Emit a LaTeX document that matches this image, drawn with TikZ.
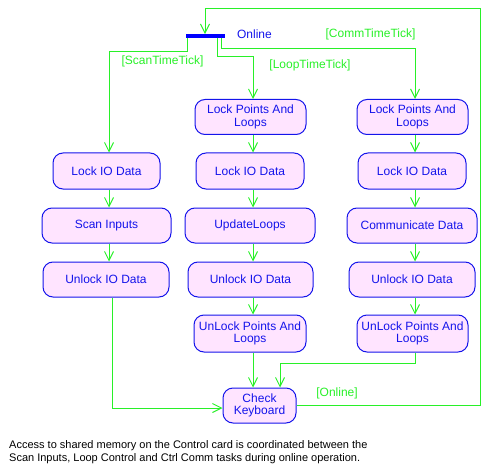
\documentclass[tikz,border=0pt]{standalone}
\usepackage{fontspec}
\setmainfont{Liberation Sans}
\usetikzlibrary{arrows.meta}
\definecolor{actblue}{RGB}{20,20,235}
\definecolor{actfill}{RGB}{255,228,255}
\definecolor{flowgreen}{RGB}{40,240,40}
\tikzset{
  act/.style={draw=actblue, fill=actfill, text=actblue, rounded corners=10pt,
    line width=1pt, align=center, inner sep=0pt, font=\fontsize{12}{12.5}\selectfont},
  flow/.style={draw=flowgreen, line width=1pt,
    -{Straight Barb[length=9pt,width=9pt,line width=1pt]}},
  flowline/.style={draw=flowgreen, line width=1pt},
  guard/.style={text=flowgreen, font=\fontsize{12}{14}\selectfont, inner sep=0pt},
}
\begin{document}
\begin{tikzpicture}[x=1pt,y=-1pt]
\useasboundingbox (0,0) rectangle (489,473);
% bar
\node[fill=blue, minimum width=39pt, minimum height=3.5pt, inner sep=0pt] (bar) at (205.5,36) {};
\node[text=actblue, font=\fontsize{12}{14}\selectfont, inner sep=0pt] (online) at (254.5,34) {Online};
% left column
\node[act, minimum width=107pt, minimum height=36pt] (lio1) at (106.5,171) {Lock IO Data};
\node[act, minimum width=129pt, minimum height=35pt] (scan) at (106.5,225.5) {Scan Inputs};
\node[act, minimum width=126pt, minimum height=35pt] (uio1) at (106,279.5) {Unlock IO Data};
% middle column
\node[act, minimum width=111pt, minimum height=35pt] (lpl2) at (250.5,117) {Lock Points And\\Loops};
\node[act, minimum width=108pt, minimum height=36pt] (lio2) at (250,171) {Lock IO Data};
\node[act, minimum width=130pt, minimum height=35pt] (upd) at (250,225.5) {UpdateLoops};
\node[act, minimum width=125pt, minimum height=35pt] (uio2) at (250.5,279.5) {Unlock IO Data};
\node[act, minimum width=112pt, minimum height=37pt] (ulp2) at (250,333.5) {UnLock Points And\\Loops};
% right column
\node[act, minimum width=111pt, minimum height=35pt] (lpl3) at (412.5,117) {Lock Points And\\Loops};
\node[act, minimum width=108pt, minimum height=36pt] (lio3) at (412,171) {Lock IO Data};
\node[act, minimum width=130pt, minimum height=35pt] (comm) at (412,225.5) {Communicate Data};
\node[act, minimum width=126pt, minimum height=35pt] (uio3) at (412,279.5) {Unlock IO Data};
\node[act, minimum width=111pt, minimum height=37pt] (ulp3) at (412.5,333.5) {UnLock Points And\\Loops};
% check keyboard
\node[act, minimum width=73pt, minimum height=35pt] (chk) at (259.5,405.5) {Check\\Keyboard};
% guards
\node[guard] (gscan) at (162.5,61) {[ScanTimeTick]};
\node[guard] (gloop) at (310,65) {[LoopTimeTick]};
\node[guard] (gcomm) at (370.5,34) {[CommTimeTick]};
\node[guard] (gonl) at (337,393) {[Online]};
% turning points
\coordinate (t1) at (109,52);
\coordinate (t2) at (253,57);
\coordinate (t3) at (415,49);
\coordinate (t4) at (280,363);
\coordinate (t5) at (480,9);
% fork connectors
\draw[flow] ([xshift=1.5pt]bar.south west) |- (t1) -- ([xshift=2.5pt]lio1.north);
\draw[flow] ([xshift=11.5pt]bar.south) |- (t2) -- ([xshift=2.5pt]lpl2.north);
\draw[flow] ([xshift=15.5pt]bar.south) |- (t3) -- ([xshift=2.5pt]lpl3.north);
% column flows
\draw[flow] ([xshift=2.5pt]lio1.south) -- ([xshift=2.5pt]scan.north);
\draw[flow] ([xshift=2.5pt]scan.south) -- ([xshift=3pt]uio1.north);
\draw[flow] ([xshift=2.5pt]lpl2.south) -- ([xshift=3pt]lio2.north);
\draw[flow] ([xshift=3pt]lio2.south) -- ([xshift=3pt]upd.north);
\draw[flow] ([xshift=3pt]upd.south) -- ([xshift=2.5pt]uio2.north);
\draw[flow] ([xshift=2.5pt]uio2.south) -- ([xshift=3pt]ulp2.north);
\draw[flow] ([xshift=2.5pt]lpl3.south) -- ([xshift=3pt]lio3.north);
\draw[flow] ([xshift=3pt]lio3.south) -- ([xshift=3pt]comm.north);
\draw[flow] ([xshift=3pt]comm.south) -- ([xshift=3pt]uio3.north);
\draw[flow] ([xshift=3pt]uio3.south) -- ([xshift=2.5pt]ulp3.north);
% joins into check keyboard
\draw[flow] ([xshift=6pt]uio1.south) |- ([yshift=-2.5pt]chk.west);
\draw[flow] ([xshift=3pt]ulp2.south) -- ([xshift=-6.5pt]chk.north);
\draw[flow] ([xshift=2.5pt]ulp3.south) |- (t4) -- ([xshift=20.5pt]chk.north);
% loop back
\draw[flow] (chk.east) -| (t5) -| ([xshift=-0.5pt]bar.north);
% caption
\node[anchor=north west, align=left, inner sep=0pt, font=\fontsize{11}{13}\selectfont] (cap) at (9,440)
  {Access to shared memory on the Control card is coordinated between the\\Scan Inputs, Loop Control and Ctrl Comm tasks during online operation.};
\end{tikzpicture}
\end{document}
